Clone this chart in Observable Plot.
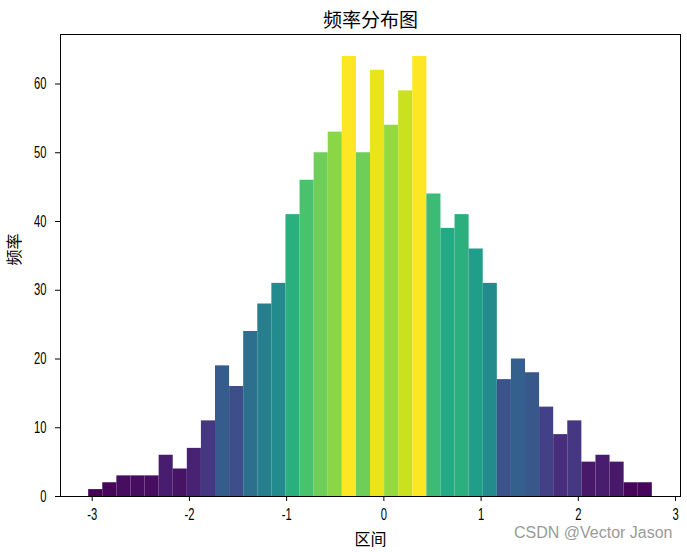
<!DOCTYPE html>
<html>
<head>
<meta charset="utf-8">
<script src="https://cdn.jsdelivr.net/npm/d3@7"></script>
<script src="https://cdn.jsdelivr.net/npm/@observablehq/plot@0.6"></script>
<style>
  html, body { margin: 0; padding: 0; background: #fff; }
</style>
</head>
<body>
<div id="chart"></div>
<script>
// Histogram counts (40 equal-width bins)
const counts = [1, 2, 3, 3, 3, 6, 4, 7, 11, 19,
                16, 24, 28, 31, 41, 46, 50, 53, 64, 50,
                62, 54, 59, 64, 44, 39, 41, 36, 31, 17,
                20, 18, 13, 9, 11, 5, 6, 5, 2, 2];
// Bin range (left edge of first bin, right edge of last bin)
const binMin = -3.036;
const binMax = 2.761;
const xTicks = [-3, -2, -1, 0, 1, 2, 3];
const yTicks = [0, 10, 20, 30, 40, 50, 60];
const titleText = "频率分布图";
const xLabel = "区间";
const yLabel = "频率";
const watermark = "CSDN @Vector Jason";

const nb = counts.length;
const bw = (binMax - binMin) / nb;
const bins = counts.map((c, i) => ({
  x1: binMin + i * bw,
  x2: binMin + (i + 1) * bw,
  count: c
}));

const cmin = d3.min(counts), cmax = d3.max(counts);
const pad = (binMax - binMin) * 0.05;

const tickFont = "'Liberation Sans', Arial, sans-serif";
const cjkFont = "'Noto Sans CJK SC', sans-serif";

const chart = Plot.plot({
  width: 687,
  height: 552,
  marginLeft: 60,
  marginRight: 7,
  marginTop: 34,
  marginBottom: 56,
  style: { background: "#fff", fontFamily: tickFont, fontSize: "16px", color: "#000" },
  x: { domain: [binMin - pad, binMax + pad], label: null },
  y: { domain: [0, cmax * 1.05], label: null },
  color: { type: "linear", scheme: "viridis", domain: [cmin, cmax] },
  marks: [
    Plot.rectY(bins, { x1: "x1", x2: "x2", y: "count", fill: "count" }),
    Plot.axisX({ ticks: xTicks, tickFormat: d => String(d), tickSize: 5, tickPadding: 7, fontSize: 16, fontFamily: tickFont, label: null }),
    Plot.axisY({ ticks: yTicks, tickFormat: d => String(d), tickSize: 5, tickPadding: 9, fontSize: 16, fontFamily: tickFont, label: null }),
    Plot.frame({ stroke: "#000", strokeWidth: 1 }),
    Plot.text([titleText], { text: d => d, frameAnchor: "top", dy: -21, fontSize: 19, fontFamily: cjkFont, fill: "#000" }),
    Plot.text([xLabel], { text: d => d, frameAnchor: "bottom", dy: 48, fontSize: 16, fontFamily: cjkFont, fill: "#000" }),
    Plot.text([yLabel], { text: d => d, frameAnchor: "left", dx: -46, rotate: -90, fontSize: 16, fontFamily: cjkFont, fill: "#000" }),
    Plot.text([watermark], { text: d => d, frameAnchor: "bottom-right", textAnchor: "end", dx: -8, dy: 41, fontSize: 16, fontFamily: "'Liberation Sans', Arial, sans-serif", fill: "#9a9a9a" })
  ]
});
document.getElementById("chart").appendChild(chart);

// Narrow the tick digits like the reference's condensed font
chart.querySelectorAll('g[aria-label="x-axis tick label"] text, g[aria-label="y-axis tick label"] text').forEach(t => {
  const tr = t.getAttribute("transform");
  if (tr) {
    t.setAttribute("transform", tr + " scale(0.7,1)");
  } else {
    const x = t.getAttribute("x") || 0, y = t.getAttribute("y") || 0;
    t.removeAttribute("x"); t.removeAttribute("y");
    t.setAttribute("transform", `translate(${x},${y}) scale(0.7,1)`);
  }
});
</script>
</body>
</html>
